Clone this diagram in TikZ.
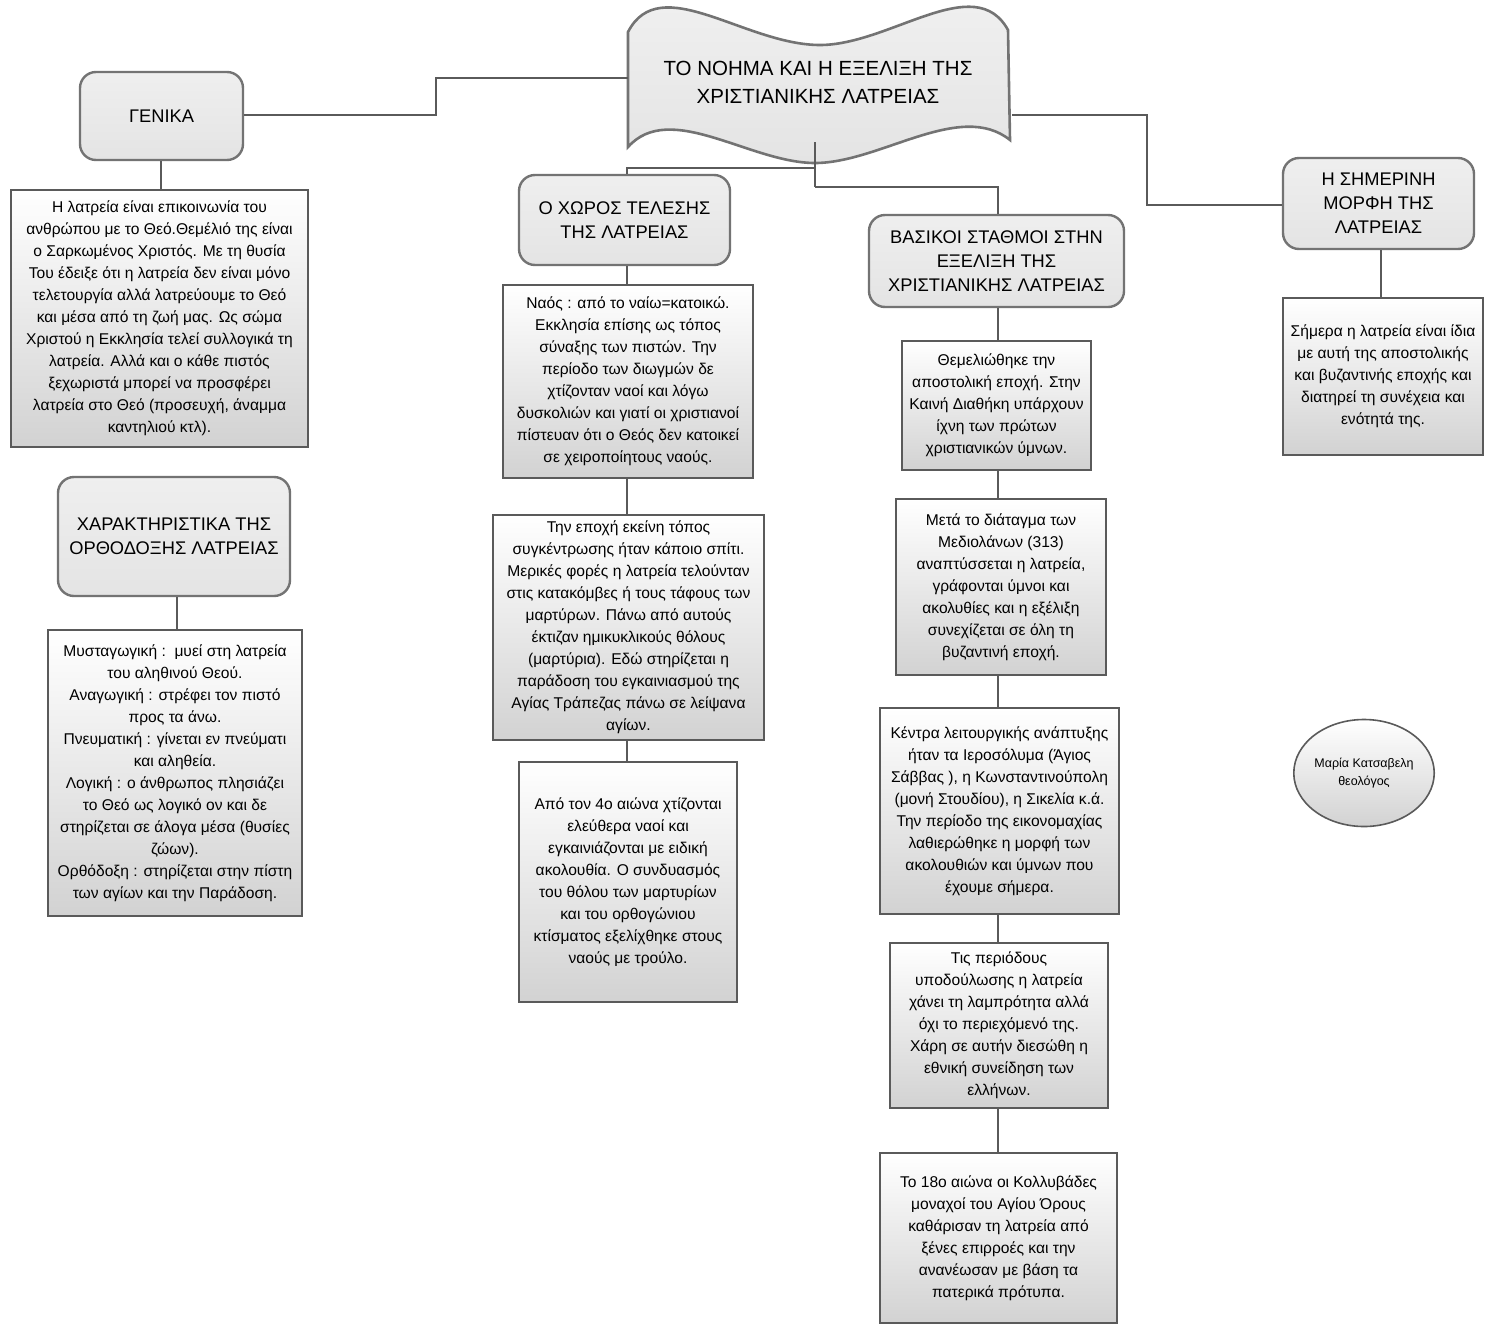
\documentclass[tikz,border=0pt]{standalone}
\usepackage{fontspec}
\setmainfont{Liberation Sans}
\usetikzlibrary{shapes.geometric}
\definecolor{edge}{HTML}{5A5A5A}
\definecolor{hdrfill}{HTML}{E4E4E4}
\definecolor{boxbot}{HTML}{D2D2D2}
\tikzset{
  txtbox/.style={rectangle, draw=edge, line width=1.6pt, top color=white, bottom color=boxbot,
    align=center, inner sep=0pt, font=\fontsize{15.6}{22}\selectfont},
  hdrbox/.style={rectangle, rounded corners=16pt, draw=edge!85, line width=2.4pt,
    top color=hdrfill!60, bottom color=hdrfill, align=center, inner sep=0pt,
    font=\fontsize{18.3}{24}\selectfont},
  conn/.style={draw=edge, line width=1.8pt},
}
\begin{document}
\begin{tikzpicture}[x=1pt,y=-1pt]
\useasboundingbox (0,0) rectangle (1496,1336);
\fill[white] (0,0) rectangle (1496,1336);

% title banner
\path[draw=edge!85, line width=2.6pt, top color=hdrfill!50, bottom color=hdrfill]
  (628,32) .. controls (660,-30) and (745,45) .. (820,45)
  .. controls (890,45) and (975,-30) .. (1008,30)
  -- (1010,140)
  .. controls (960,100) and (880,163) .. (815,163)
  .. controls (750,163) and (670,100) .. (628,147) -- cycle;
\node[align=center, font=\fontsize{20.5}{28}\selectfont] (title) at (818,82)
  {ΤΟ ΝΟΗΜΑ ΚΑΙ Η ΕΞΕΛΙΞΗ ΤΗΣ\\ΧΡΙΣΤΙΑΝΙΚΗΣ ΛΑΤΡΕΙΑΣ};
\coordinate (tL) at (628,78);
\coordinate (tR) at (1012,115);
\coordinate (tB) at (815,142);

% left column
\node[hdrbox, minimum width=163pt, minimum height=88pt] (gen) at (161.5,116) {ΓΕΝΙΚΑ};
\node[txtbox, minimum width=297pt, minimum height=257pt] (b1) at (159.5,318.5)
  {Η λατρεία είναι επικοινωνία του\\ανθρώπου με το Θεό.Θεμέλιό της είναι\\ο Σαρκωμένος Χριστός. Με τη θυσία\\Του έδειξε ότι η λατρεία δεν είναι μόνο\\τελετουργία αλλά λατρεύουμε το Θεό\\και μέσα από τη ζωή μας. Ως σώμα\\Χριστού η Εκκλησία τελεί συλλογικά τη\\λατρεία. Αλλά και ο κάθε πιστός\\ξεχωριστά μπορεί να προσφέρει\\λατρεία στο Θεό (προσευχή, άναμμα\\καντηλιού κτλ).};
\node[hdrbox, minimum width=232pt, minimum height=119pt] (char) at (174,536.5)
  {ΧΑΡΑΚΤΗΡΙΣΤΙΚΑ ΤΗΣ\\ΟΡΘΟΔΟΞΗΣ ΛΑΤΡΕΙΑΣ};
\node[txtbox, minimum width=254pt, minimum height=286pt] (b2) at (175,773)
  {Μυσταγωγική :\ \ μυεί στη λατρεία\\του αληθινού Θεού.\\Αναγωγική : στρέφει τον πιστό\\προς τα άνω.\\Πνευματική : γίνεται εν πνεύματι\\και αληθεία.\\Λογική : ο άνθρωπος πλησιάζει\\το Θεό ως λογικό ον και δε\\στηρίζεται σε άλογα μέσα (θυσίες\\ζώων).\\Ορθόδοξη : στηρίζεται στην πίστη\\των αγίων και την Παράδοση.};

% middle column
\node[hdrbox, minimum width=211pt, minimum height=90pt] (xor) at (624.5,220)
  {Ο ΧΩΡΟΣ ΤΕΛΕΣΗΣ\\ΤΗΣ ΛΑΤΡΕΙΑΣ};
\node[txtbox, minimum width=250pt, minimum height=193pt] (b3) at (628,381.5)
  {Ναός : από το ναίω=κατοικώ.\\Εκκλησία επίσης ως τόπος\\σύναξης των πιστών. Την\\περίοδο των διωγμών δε\\χτίζονταν ναοί και λόγω\\δυσκολιών και γιατί οι χριστιανοί\\πίστευαν ότι ο Θεός δεν κατοικεί\\σε χειροποίητους ναούς.};
\node[txtbox, minimum width=271pt, minimum height=225pt] (b4) at (628.5,627.5)
  {Την εποχή εκείνη τόπος\\συγκέντρωσης ήταν κάποιο σπίτι.\\Μερικές φορές η λατρεία τελούνταν\\στις κατακόμβες ή τους τάφους των\\μαρτύρων. Πάνω από αυτούς\\έκτιζαν ημικυκλικούς θόλους\\(μαρτύρια). Εδώ στηρίζεται η\\παράδοση του εγκαινιασμού της\\Αγίας Τράπεζας πάνω σε λείψανα\\αγίων.};
\node[txtbox, minimum width=218pt, minimum height=240pt] (b5) at (628,882)
  {Από τον 4ο αιώνα χτίζονται\\ελεύθερα ναοί και\\εγκαινιάζονται με ειδική\\ακολουθία. Ο συνδυασμός\\του θόλου των μαρτυρίων\\και του ορθογώνιου\\κτίσματος εξελίχθηκε στους\\ναούς με τρούλο.};

% right-middle column
\node[hdrbox, minimum width=255pt, minimum height=92pt] (bas) at (996.5,261)
  {ΒΑΣΙΚΟΙ ΣΤΑΘΜΟΙ ΣΤΗΝ\\ΕΞΕΛΙΞΗ ΤΗΣ\\ΧΡΙΣΤΙΑΝΙΚΗΣ ΛΑΤΡΕΙΑΣ};
\node[txtbox, minimum width=189pt, minimum height=129pt] (b6) at (996.5,405.5)
  {Θεμελιώθηκε την\\αποστολική εποχή. Στην\\Καινή Διαθήκη υπάρχουν\\ίχνη των πρώτων\\χριστιανικών ύμνων.};
\node[txtbox, minimum width=210pt, minimum height=176pt] (b7) at (1001,587)
  {Μετά το διάταγμα των\\Μεδιολάνων (313)\\αναπτύσσεται η λατρεία,\\γράφονται ύμνοι και\\ακολυθίες και η εξέλιξη\\συνεχίζεται σε όλη τη\\βυζαντινή εποχή.};
\node[txtbox, minimum width=239pt, minimum height=206pt] (b8) at (999.5,811)
  {Κέντρα λειτουργικής ανάπτυξης\\ήταν τα Ιεροσόλυμα (Άγιος\\Σάββας ), η Κωνσταντινούπολη\\(μονή Στουδίου), η Σικελία κ.ά.\\Την περίοδο της εικονομαχίας\\λαθιερώθηκε η μορφή των\\ακολουθιών και ύμνων που\\έχουμε σήμερα.};
\node[txtbox, minimum width=218pt, minimum height=165pt] (b9) at (999,1025.5)
  {Τις περιόδους\\υποδούλωσης η λατρεία\\χάνει τη λαμπρότητα αλλά\\όχι το περιεχόμενό της.\\Χάρη σε αυτήν διεσώθη η\\εθνική συνείδηση των\\ελλήνων.};
\node[txtbox, minimum width=237pt, minimum height=170pt] (b10) at (998.5,1238)
  {Το 18ο αιώνα οι Κολλυβάδες\\μοναχοί του Αγίου Όρους\\καθάρισαν τη λατρεία από\\ξένες επιρροές και την\\ανανέωσαν με βάση τα\\πατερικά πρότυπα.};

% right column
\node[hdrbox, minimum width=191pt, minimum height=91pt] (sim) at (1378.5,203.5)
  {Η ΣΗΜΕΡΙΝΗ\\ΜΟΡΦΗ ΤΗΣ\\ΛΑΤΡΕΙΑΣ};
\node[txtbox, minimum width=200pt, minimum height=157pt] (b11) at (1383,376.5)
  {Σήμερα η λατρεία είναι ίδια\\με αυτή της αποστολικής\\και βυζαντινής εποχής και\\διατηρεί τη συνέχεια και\\ενότητά της.};
\node[ellipse, draw=edge, line width=1.6pt, top color=white, bottom color=boxbot,
  minimum width=133pt, minimum height=107pt, inner sep=0pt, align=center,
  font=\fontsize{12.5}{18}\selectfont] (auth) at (1364,773)
  {Μαρία Κατσαβελη\\θεολόγος};

% connectors
\draw[conn] (tL) -| (436,115) -- (gen.east |- 0,115);
\draw[conn] (161,0 |- gen.south) -- (161,0 |- b1.north);
\draw[conn] (177,0 |- char.south) -- (177,0 |- b2.north);
\draw[conn] (tB) -- (815,187);
\draw[conn] (815,168) -| (xor.north -| 627,0);
\draw[conn] (815,187) -| (bas.north -| 998,0);
\draw[conn] (tR) -| (1147,205) -- (sim.west |- 0,205);
\draw[conn] (627,0 |- xor.south) -- (627,0 |- b3.north);
\draw[conn] (627,0 |- b3.south) -- (627,0 |- b4.north);
\draw[conn] (627,0 |- b4.south) -- (627,0 |- b5.north);
\draw[conn] (998,0 |- bas.south) -- (998,0 |- b6.north);
\draw[conn] (998,0 |- b6.south) -- (998,0 |- b7.north);
\draw[conn] (998,0 |- b7.south) -- (998,0 |- b8.north);
\draw[conn] (998,0 |- b8.south) -- (998,0 |- b9.north);
\draw[conn] (998,0 |- b9.south) -- (998,0 |- b10.north);
\draw[conn] (1381,0 |- sim.south) -- (1381,0 |- b11.north);
\end{tikzpicture}
\end{document}
